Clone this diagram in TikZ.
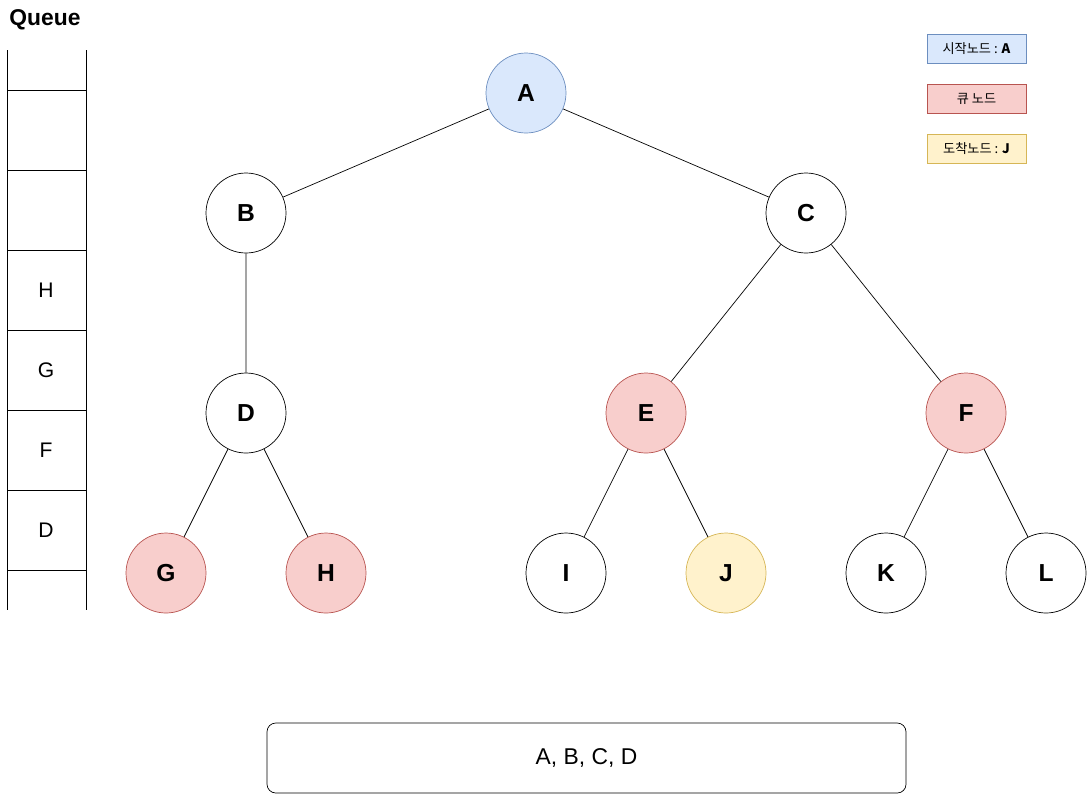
\documentclass[tikz,border=0pt]{standalone}
\usepackage{fontspec}
\setmainfont{Liberation Sans}
\newfontfamily\kr{Noto Sans CJK KR}
\begin{document}
\begin{tikzpicture}[x=0.02cm,y=-0.02cm,
 nd/.style={circle,draw,minimum size=80*0.02cm,inner sep=0,font=\fontsize{14}{16}\selectfont\bfseries},
 blue/.style={fill={rgb,255:red,218;green,232;blue,252},draw={rgb,255:red,108;green,142;blue,191}},
 red/.style={fill={rgb,255:red,248;green,206;blue,204},draw={rgb,255:red,184;green,84;blue,80}},
 yel/.style={fill={rgb,255:red,255;green,242;blue,204},draw={rgb,255:red,214;green,182;blue,86}},
 leg/.style={minimum width=99*0.02cm,minimum height=29*0.02cm,inner sep=0,font=\kr\fontsize{7.5}{9}\selectfont},
 q/.style={font=\fontsize{12}{14}\selectfont}]
\useasboundingbox (0,0) rectangle (1087,795);
\node[font=\fontsize{13}{15}\selectfont\bfseries] (title) at (45,20) {Queue};
\draw (7,50) -- (7,610) (86,50) -- (86,610);
\foreach \y in {90,170,250,330,410,490,570} \draw (7,\y) -- (86,\y);
\node[q] (q1) at (46,290) {H};
\node[q] (q2) at (46,370) {G};
\node[q] (q3) at (46,450) {F};
\node[q] (q4) at (46,530) {D};
\node[nd,blue] (A) at (526,93) {A};
\node[nd] (B) at (246,213) {B};
\node[nd] (C) at (806,213) {C};
\node[nd] (D) at (246,413) {D};
\node[nd,red] (E) at (646,413) {E};
\node[nd,red] (F) at (966,413) {F};
\node[nd,red] (G) at (166,573) {G};
\node[nd,red] (H) at (326,573) {H};
\node[nd] (I) at (566,573) {I};
\node[nd,yel] (J) at (726,573) {J};
\node[nd] (K) at (886,573) {K};
\node[nd] (L) at (1046,573) {L};
\draw (A)--(B) (A)--(C) (B)--(D) (C)--(E) (C)--(F) (D)--(G) (D)--(H) (E)--(I) (E)--(J) (F)--(K) (F)--(L);
\node[leg,blue] (l1) at (976.5,48.5) {시작노드 : \textbf{A}};
\node[leg,red] (l2) at (976.5,98.5) {큐 노드};
\node[leg,yel] (l3) at (976.5,148.5) {도착노드 : \textbf{J}};
\node[draw,rounded corners=5,minimum width=639*0.02cm,minimum height=70*0.02cm,font=\fontsize{13}{15}\selectfont] (res) at (586.5,758) {A, B, C, D};
\end{tikzpicture}
\end{document}
